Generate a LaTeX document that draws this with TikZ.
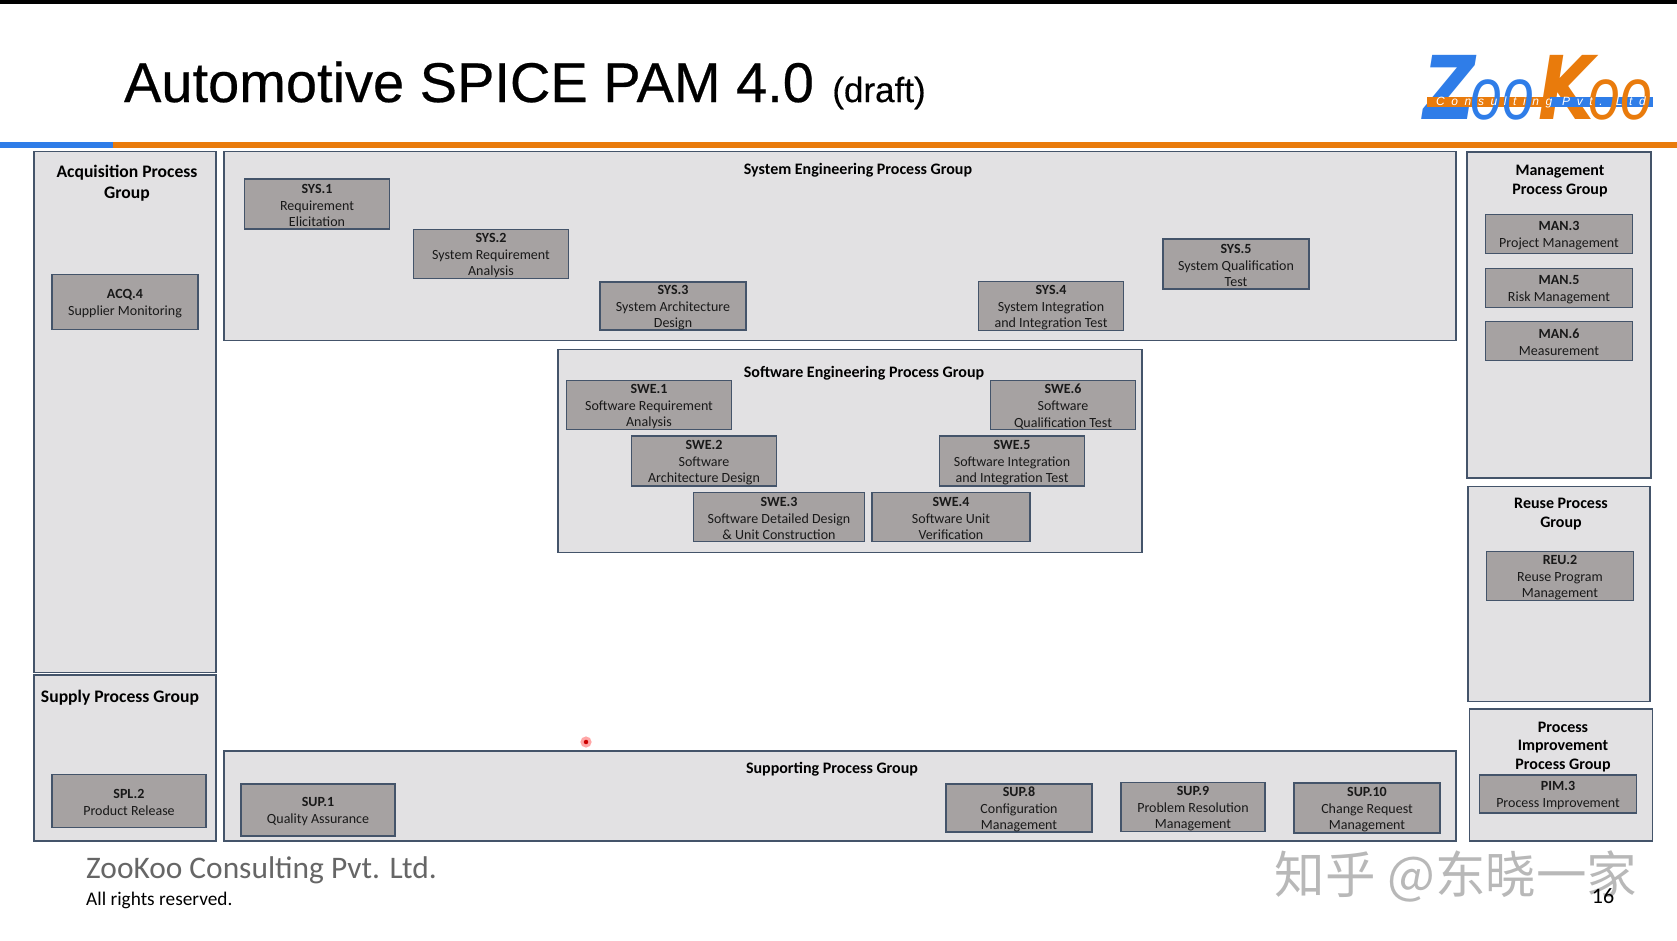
\documentclass[tikz,border=0pt]{standalone}
\usepackage{fontspec}
\setmainfont{Carlito}
\newfontfamily\titlefont[FakeBold=0.4]{Liberation Sans}
\newfontfamily\logofont{DejaVu Sans}
\newfontfamily\logoofont{Liberation Sans}
\newfontfamily\logotextfont[LetterSpace=55]{Liberation Sans}
\newfontfamily\cjk{Noto Sans CJK SC}
\definecolor{groupfill}{HTML}{E2E1E3}
\definecolor{itemfill}{HTML}{A6A2A2}
\definecolor{edgeblue}{HTML}{44546A}
\definecolor{zkblue}{HTML}{2F7DE8}
\definecolor{zkorange}{HTML}{E97B0C}
\newcommand{\itemcode}[1]{\rule{0pt}{12.5pt}\textbf{#1}}
\begin{document}
\begin{tikzpicture}[x=1pt,y=-1pt]
 \tikzset{grp/.style={draw=edgeblue, fill=groupfill, line width=1.6pt, inner sep=0pt}}
 \tikzset{item/.style={draw=edgeblue, fill=itemfill, line width=1.6pt, inner sep=0pt, align=center, text=black!90, font=\fontsize{14}{16.7}\selectfont}}
 \tikzset{grptitle/.style={align=center, inner sep=0pt, text=black, font=\bfseries\fontsize{16}{18.5}\selectfont}}
 \tikzset{grpbig/.style={align=center, inner sep=0pt, text=black, font=\bfseries\fontsize{17.6}{21.4}\selectfont}}
 \tikzset{logoletter/.style={inner sep=0pt, xscale=0.82, transform shape, font=\logofont\bfseries\itshape\fontsize{88}{88}\selectfont}}
 \tikzset{logoround/.style={inner sep=0pt, yscale=1.3, transform shape, font=\logoofont\itshape\fontsize{57}{57}\selectfont}}
 \useasboundingbox (0,0) rectangle (1677,941);
  \fill[black] (0,0) rectangle (1677,4);
  \fill[zkblue] (0,142) rectangle (113,148);
  \fill[zkorange] (113,142) rectangle (1677,148);
  \node[inner sep=0pt, font=\titlefont\fontsize{56}{60}\selectfont] (title) at (469,82) {Automotive SPICE PAM 4.0};
  \node[inner sep=0pt, font=\titlefont\fontsize{35}{40}\selectfont] (draft) at (879,93) {(draft)};
  \node[logoletter, text=zkblue] (logoZ) at (1450,87) {Z};
  \node[logoletter, text=zkorange] (logoK) at (1566,87) {K};
  \fill[zkorange] (1427,97) rectangle (1550,107);
  \fill[zkblue] (1550,97) rectangle (1653,107);
  \node[logoround, text=zkblue] (logoOA) at (1502,100) {oo};
  \node[logoround, text=zkorange] (logoOB) at (1620,100) {oo};
  \node[inner sep=0pt, text=white, font=\logotextfont\itshape\fontsize{12}{12}\selectfont] (logoT) at (1541,102) {Consulting Pvt. Ltd};
  \node[grp, minimum width=182, minimum height=521] (ACQ) at (125,412) {};
  \node[grp, minimum width=182, minimum height=166] (SPL) at (125,758) {};
  \node[grp, minimum width=1232, minimum height=189] (SYS) at (840,246) {};
  \node[grp, minimum width=584, minimum height=203] (SWE) at (850,451) {};
  \node[grp, minimum width=1232, minimum height=90] (SUP) at (840,796) {};
  \node[grp, minimum width=184, minimum height=326] (MAN) at (1559,315) {};
  \node[grp, minimum width=182, minimum height=215] (REU) at (1559,594) {};
  \node[grp, minimum width=183, minimum height=132] (PIM) at (1561,775) {};
  \node[grpbig] (ACQt) at (127,183) {Acquisition Process\\Group};
  \node[grpbig] (SPLt) at (120,698) {Supply Process Group};
  \node[grptitle] (SYSt) at (858,170) {System Engineering Process Group};
  \node[grptitle] (SWEt) at (864,373) {Software Engineering Process Group};
  \node[grptitle] (SUPt) at (832,769) {Supporting Process Group};
  \node[grptitle] (MANt) at (1560,181) {Management\\Process Group};
  \node[grptitle] (REUt) at (1561,514) {Reuse Process\\Group};
  \node[grptitle] (PIMt) at (1563,747) {Process\\Improvement\\Process Group};
  \node[item, minimum width=145, minimum height=50] (SYS1) at (317,204) {\itemcode{SYS.1}\\Requirement\\Elicitation};
  \node[item, minimum width=155, minimum height=49] (SYS2) at (491,254) {\itemcode{SYS.2}\\System Requirement\\Analysis};
  \node[item, minimum width=146, minimum height=48] (SYS3) at (673,306) {\itemcode{SYS.3}\\System Architecture\\Design};
  \node[item, minimum width=145, minimum height=49] (SYS4) at (1051,306) {\itemcode{SYS.4}\\System Integration\\and Integration Test};
  \node[item, minimum width=146, minimum height=50] (SYS5) at (1236,264) {\itemcode{SYS.5}\\System Qualification\\Test};
  \node[item, minimum width=146, minimum height=55] (ACQ4) at (125,302) {\itemcode{ACQ.4}\\Supplier Monitoring};
  \node[item, minimum width=154, minimum height=53] (SPL2) at (129,801) {\itemcode{SPL.2}\\Product Release};
  \node[item, minimum width=165, minimum height=49] (SWE1) at (649,405) {\itemcode{SWE.1}\\Software Requirement\\Analysis};
  \node[item, minimum width=145, minimum height=50] (SWE2) at (704,461) {\itemcode{SWE.2}\\Software\\Architecture Design};
  \node[item, minimum width=171, minimum height=49] (SWE3) at (779,517) {\itemcode{SWE.3}\\Software Detailed Design\\\& Unit Construction};
  \node[item, minimum width=158, minimum height=49] (SWE4) at (951,517) {\itemcode{SWE.4}\\Software Unit\\Verification};
  \node[item, minimum width=145, minimum height=50] (SWE5) at (1012,461) {\itemcode{SWE.5}\\Software Integration\\and Integration Test};
  \node[item, minimum width=145, minimum height=49] (SWE6) at (1063,405) {\itemcode{SWE.6}\\Software\\Qualification Test};
  \node[item, minimum width=154, minimum height=52] (SUP1) at (318,810) {\itemcode{SUP.1}\\Quality Assurance};
  \node[item, minimum width=146, minimum height=48] (SUP8) at (1019,808) {\itemcode{SUP.8}\\Configuration\\Management};
  \node[item, minimum width=144, minimum height=49] (SUP9) at (1193,807) {\itemcode{SUP.9}\\Problem Resolution\\Management};
  \node[item, minimum width=146, minimum height=50] (SUP10) at (1367,808) {\itemcode{SUP.10}\\Change Request\\Management};
  \node[item, minimum width=147, minimum height=39] (MAN3) at (1559,234) {\itemcode{MAN.3}\\Project Management};
  \node[item, minimum width=147, minimum height=39] (MAN5) at (1559,288) {\itemcode{MAN.5}\\Risk Management};
  \node[item, minimum width=147, minimum height=39] (MAN6) at (1559,341) {\itemcode{MAN.6}\\Measurement};
  \node[item, minimum width=147, minimum height=49] (REU2) at (1560,576) {\itemcode{REU.2}\\Reuse Program\\Management};
  \node[item, minimum width=157, minimum height=38] (PIM3) at (1558,794) {\itemcode{PIM.3}\\Process Improvement};
  \node[circle, fill=red!80!black, draw=red!35, line width=3pt, minimum size=8pt, inner sep=0pt] (laser) at (586,742) {};
  \node[anchor=west, inner sep=0pt, text=black!60, font=\fontsize{31.4}{34}\selectfont] (firm) at (86,870) {ZooKoo Consulting Pvt. Ltd.};
  \node[anchor=west, inner sep=0pt, font=\fontsize{19.3}{22}\selectfont] (rights) at (86,900) {All rights reserved.};
  \node[inner sep=0pt, text=black!28, font=\cjk\fontsize{50.5}{54}\selectfont] (mark) at (1456,876) {知乎 @东晓一家};
  \node[inner sep=0pt, font=\fontsize{22}{24}\selectfont] (page) at (1603,896) {16};
\end{tikzpicture}
\end{document}
